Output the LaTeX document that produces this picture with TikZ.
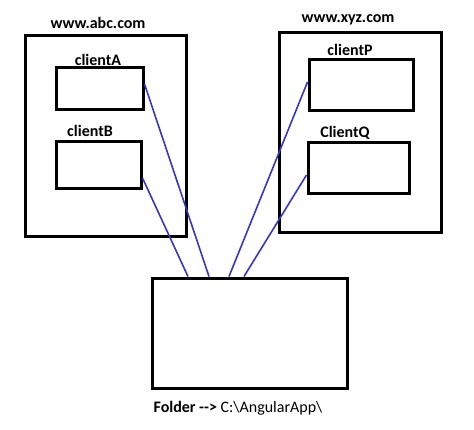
\documentclass[tikz,border=0pt]{standalone}
\usepackage{fontspec}
\setmainfont{Carlito}
\definecolor{linkblue}{RGB}{55,55,195}
\begin{document}
\begin{tikzpicture}[x=1pt,y=-1pt,
  box/.style={draw=black,line width=3pt,inner sep=0pt,minimum width=#1},
  lbl/.style={font=\fontsize{16}{18}\selectfont\bfseries,anchor=base,inner sep=0pt},
  link/.style={draw=linkblue,line width=1.6pt}]
\useasboundingbox[fill=white] (0,0) rectangle (474,429);
\node[box=161pt,minimum height=201pt] (abc) at (105.5,135.5) {};
\node[box=87pt,minimum height=42pt] (clientA) at (99.5,88) {};
\node[box=85pt,minimum height=47pt] (clientB) at (98.5,164.5) {};
\node[box=162pt,minimum height=200pt] (xyz) at (360,132) {};
\node[box=104pt,minimum height=51pt] (clientP) at (361,84.5) {};
\node[box=101pt,minimum height=51pt] (clientQ) at (358.5,167.5) {};
\node[box=195pt,minimum height=110pt] (folder) at (249.5,333) {};
\node[lbl] (labc) at (98,28) {www.abc.com};
\node[lbl] (lA) at (98,65) {clientA};
\node[lbl] (lB) at (90,136) {clientB};
\node[lbl] (lxyz) at (348,22) {www.xyz.com};
\node[lbl] (lP) at (350,55) {clientP};
\node[lbl] (lQ) at (345,137) {ClientQ};
\node[anchor=base,inner sep=0pt,font=\fontsize{16}{18}\selectfont] (lfolder) at (238,412) {\textbf{Folder -{}->} C:\textbackslash AngularApp\textbackslash};
\draw[link] ([yshift=4pt]clientA.east) -- ([xshift=-40.5pt]folder.north);
\draw[link] ([yshift=-13.5pt]clientB.east) -- ([xshift=-61.5pt]folder.north);
\draw[link] ([yshift=2.5pt]clientP.west) -- ([xshift=-20.5pt]folder.north);
\draw[link] ([yshift=-7.5pt]clientQ.west) -- ([xshift=-5.5pt]folder.north);
\end{tikzpicture}
\end{document}
